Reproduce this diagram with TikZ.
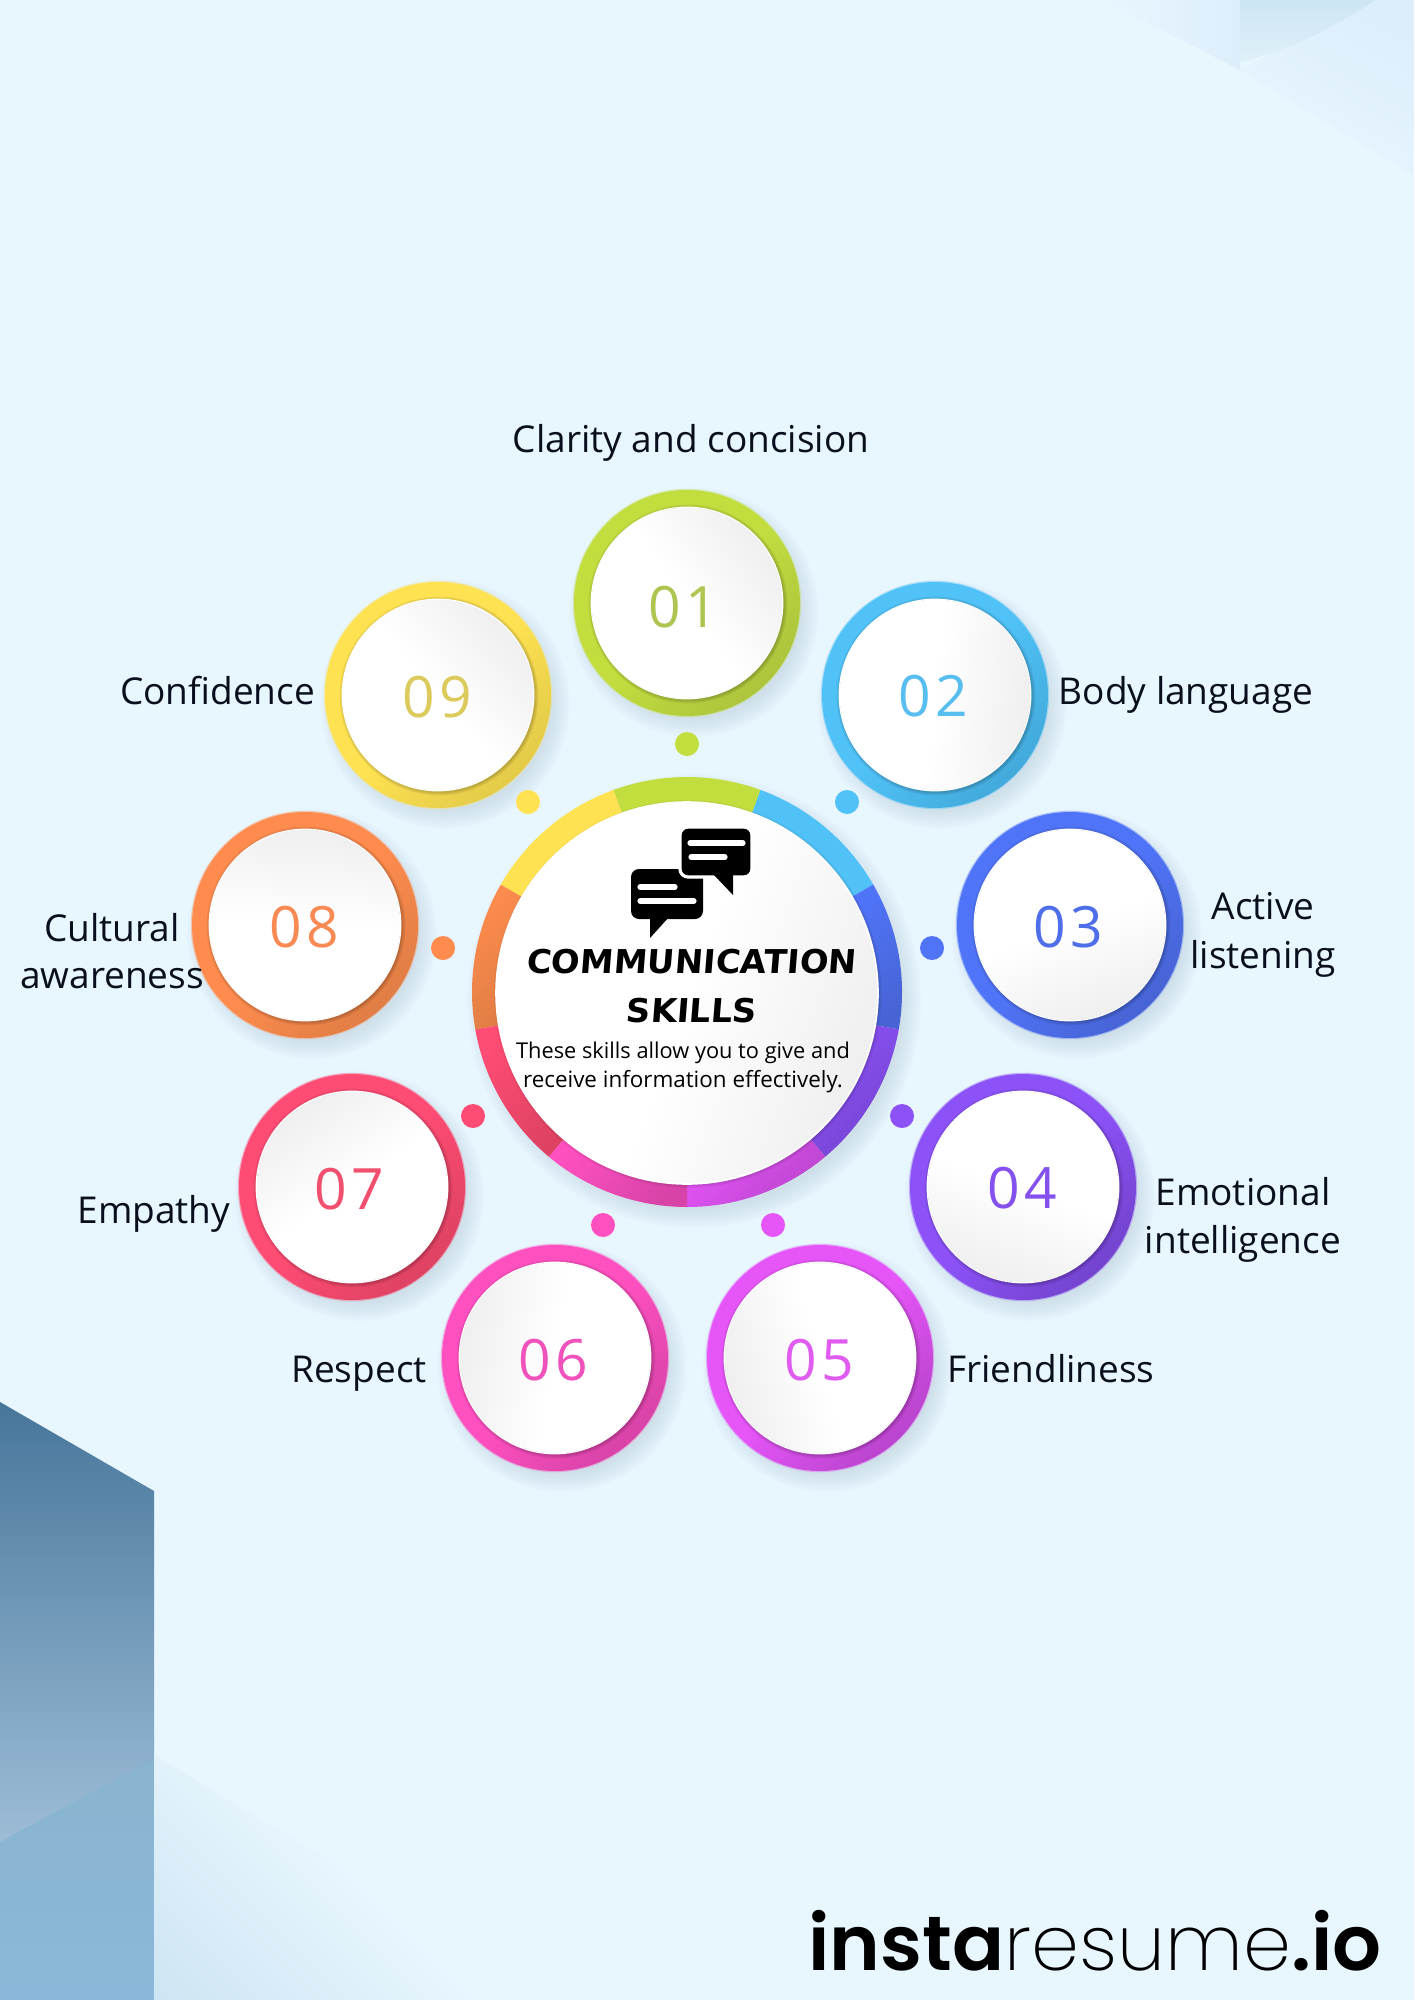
\documentclass[tikz,border=0pt]{standalone}
\usepackage{fontspec}
\setmainfont{Open Sans}
\newfontfamily\numfont[LetterSpace=8]{Open Sans}
\newfontfamily\headfont[FakeStretch=1.03,FakeSlant=0.08]{DejaVu Sans}
\newfontfamily\logobold[UprightFont={* SemiBold}]{Poppins}
\newfontfamily\logolight[UprightFont={* ExtraLight}]{Poppins}
\definecolor{bgc}{HTML}{E8F6FE}
\definecolor{inkc}{HTML}{0A0F1E}
\definecolor{cAl}{HTML}{C2DE3E}\definecolor{cAd}{HTML}{A6BE3C}\definecolor{nA}{HTML}{AFC552}
\definecolor{cBl}{HTML}{50C2F7}\definecolor{cBd}{HTML}{3FA4D4}\definecolor{nB}{HTML}{58BEF0}
\definecolor{cCl}{HTML}{5074F8}\definecolor{cCd}{HTML}{4560CC}\definecolor{nC}{HTML}{4F6FEA}
\definecolor{cDl}{HTML}{8C52F8}\definecolor{cDd}{HTML}{6E40C4}\definecolor{nD}{HTML}{8450EE}
\definecolor{cEl}{HTML}{E655F8}\definecolor{cEd}{HTML}{AE40C2}\definecolor{nE}{HTML}{E05CF0}
\definecolor{cFl}{HTML}{FF50C0}\definecolor{cFd}{HTML}{CE40A2}\definecolor{nF}{HTML}{F052BC}
\definecolor{cGl}{HTML}{FF4C74}\definecolor{cGd}{HTML}{D6405E}\definecolor{nG}{HTML}{F0506E}
\definecolor{cHl}{HTML}{FF8C4E}\definecolor{cHd}{HTML}{D87A42}\definecolor{nH}{HTML}{F98A54}
\definecolor{cIl}{HTML}{FFE252}\definecolor{cId}{HTML}{DCC546}\definecolor{nI}{HTML}{DCCB5C}
\definecolor{shc}{HTML}{33475F}
\definecolor{tra}{HTML}{DDEEFB}\definecolor{trb}{HTML}{CDE6F3}\definecolor{trc}{HTML}{DFF0FA}
\definecolor{bla}{HTML}{47769B}\definecolor{blb}{HTML}{BCD6EC}\definecolor{blc}{HTML}{89B4CF}\definecolor{bld}{HTML}{8BB8DA}\definecolor{ble}{HTML}{C2DEEE}
\pgfdeclarehorizontalshading{glossbase}{100bp}{color(0bp)=(white);color(50bp)=(white);color(78bp)=(white!93!black);color(100bp)=(white!87!black)}
\pgfdeclareverticalshading{fadeb}{100bp}{color(0bp)=(ble);color(50bp)=(bgc);color(100bp)=(bgc)}
\tikzset{
 lab/.style={font=\fontsize{18.5}{22}\selectfont,text=inkc,anchor=base},
 dotmark/.style={circle,inner sep=0pt,minimum size=12pt},
 bubble/.style={fill=black,rounded corners=4pt},
 bubbleline/.style={white,line width=2.6pt,line cap=round},
}
\newcommand\softshadow[3]{%
  \foreach \k in {0,2,...,18}{\fill[shc,opacity=0.012] (#1+7,#2+9) circle[radius={(#3+\k-6)*0.5pt}];}}
\newcommand\skillring[9]{%
  \softshadow{#2}{#3}{113}
  \draw[#4,opacity=0.4,line width=0.8pt] (#2,#3) circle[radius=56.7pt];
  \shade[top color=#4,bottom color=#5!80!#4,middle color=#4,shading angle=45] (#2,#3) circle[radius=56.5pt];
  \foreach \k in {0,...,3}{\fill[black,opacity=0.05] (#2+1,#3+1) circle[radius={(96+\k+0.5)*0.5pt}];}
  \shade[shading=glossbase,shading angle=#6] (#2,#3) circle[radius=47.7pt];
  \draw[white,line width=0.6pt] (#2,#3) circle[radius=47.9pt];
  \node[font=\numfont\fontsize{28.5}{31}\selectfont,text=#8,xshift=1pt] (#1) at (#9) {#7};
}
\newcommand\sector[4]{%
  \shade[top color=#3,bottom color=#4!80!#3,shading angle=45]
    ({687+215*cos(#1)},{992-215*sin(#1)}) arc[start angle=#1,end angle=#2,radius=107.5pt]
    -- ({687+188*cos(#2)},{992-188*sin(#2)}) arc[start angle=#2,end angle=#1,radius=94pt] -- cycle;
}
\begin{document}
\begin{tikzpicture}[x=0.5pt,y=-0.5pt]
\useasboundingbox (0,0) rectangle (1414,2000);
\fill[bgc] (0,0) rectangle (1414,2000);
% background, top right
\shade[left color=bgc,right color=tra] (1104,0) -- (1240,70) -- (1240,0) -- cycle;
\shade[top color=tra,bottom color=bgc,shading angle=-30] (1240,70) -- (1414,175) -- (1414,0) -- (1375,0) -- cycle;
\shade[top color=trb,bottom color=trc] (1240,0) -- (1375,0) .. controls (1330,30) and (1290,50) .. (1240,62) -- cycle;
% background, bottom left
\shade[top color=bla,bottom color=blb] (0,1402) -- (154,1491) -- (154,2000) -- (0,2000) -- cycle;
\shade[top color=blc,bottom color=bld] (0,1842) -- (154,1759) -- (154,2000) -- (0,2000) -- cycle;
\shade[shading=fadeb,shading angle=-45] (154,1755) -- (560,2000) -- (154,2000) -- cycle;
% centre ring
\softshadow{687}{992}{215}
\sector{70}{110}{cAl}{cAl}
\sector{30}{70}{cBl}{cBl}
\sector{-10}{30}{cCl}{cCd}
\sector{-50}{-10}{cDl}{cDd}
\sector{-90}{-50}{cEl}{cEd}
\sector{-130}{-90}{cFl}{cFd}
\sector{-170}{-130}{cGl}{cGd}
\sector{150}{190}{cHl}{cHd}
\sector{110}{150}{cIl}{cIl}
\foreach \k in {0,...,3}{\fill[black,opacity=0.04] (688,994) circle[radius={(191+\k)*0.5pt}];}
\shade[shading=glossbase,shading angle=-20] (687,993) circle[radius=95.5pt];
\draw[white,line width=0.8pt] (687,993) circle[radius=95.5pt];
% the nine rings
\skillring{n1}{687}{603}{cAl}{cAd}{35}{01}{nA}{681,607}
\skillring{n2}{935}{695}{cBl}{cBd}{-5}{02}{nB}{931,696}
\skillring{n3}{1070}{925}{cCl}{cCd}{-70}{03}{nC}{1066,927}
\skillring{n4}{1023}{1187}{cDl}{cDd}{-110}{04}{nD}{1020,1188}
\skillring{n5}{820}{1358}{cEl}{cEd}{195}{05}{nE}{817,1360}
\skillring{n6}{555}{1358}{cFl}{cFd}{170}{06}{nF}{551,1360}
\skillring{n7}{352}{1187}{cGl}{cGd}{125}{07}{nG}{347,1189}
\skillring{n8}{305}{925}{cHl}{cHd}{85}{08}{nH}{302,927}
\skillring{n9}{438}{695}{cIl}{cId}{40}{09}{nI}{435,697}
% dots
\node[dotmark,fill=cAl] (d1) at (687,744) {};
\node[dotmark,fill=cBl] (d2) at (847,802) {};
\node[dotmark,fill=cCl] (d3) at (932,948) {};
\node[dotmark,fill=cDl] (d4) at (902,1116) {};
\node[dotmark,fill=cEl] (d5) at (773,1225) {};
\node[dotmark,fill=cFl] (d6) at (603,1225) {};
\node[dotmark,fill=cGl] (d7) at (473,1116) {};
\node[dotmark,fill=cHl] (d8) at (443,948) {};
\node[dotmark,fill=cIl] (d9) at (528,802) {};
% labels
\node[lab] (l1) at (691,452) {Clarity and concision};
\node[lab] (l2) at (1186,704) {Body language};
\node[lab] (l3a) at (1263,919) {Active};
\node[lab] (l3b) at (1263,968) {listening};
\node[lab] (l4a) at (1243,1205) {Emotional};
\node[lab] (l4b) at (1243,1253) {intelligence};
\node[lab] (l5) at (1051,1382) {Friendliness};
\node[lab] (l6) at (359,1382) {Respect};
\node[lab] (l7) at (154,1223) {Empathy};
\node[lab] (l8a) at (112,941) {Cultural};
\node[lab] (l8b) at (112,988) {awareness};
\node[lab] (l9) at (217.5,704) {Confidence};
% chat icon
\path[bubble] (631,869) rectangle (703,919);
\fill[black] (650,915) -- (650,938) -- (669,917) -- cycle;
\draw[bubbleline] (640,887) -- (675,887);
\draw[bubbleline] (640,901) -- (694,901);
\path[bubble,draw=white,line width=1.6pt] (680,827) rectangle (752,877);
\fill[black] (714,875) -- (733,895) -- (733,875) -- cycle;
\draw[bubbleline] (690,843) -- (743,843);
\draw[bubbleline] (691,857) -- (725,857);
% centre text
\node[anchor=base,font=\headfont\bfseries\fontsize{16.4}{20}\selectfont,text=black] (h1) at (691,973) {COMMUNICATION};
\node[anchor=base,font=\headfont\bfseries\fontsize{16.4}{20}\selectfont,text=black] (h2) at (691,1022) {SKILLS};
\node[anchor=base,font=\fontsize{10.9}{13}\selectfont,text=black] (b1) at (683,1058) {These skills allow you to give and};
\node[anchor=base,font=\fontsize{11.2}{13}\selectfont,text=black] (b2) at (683,1087) {receive information effectively.};
% logo
\node[anchor=base,inner sep=0pt,font=\fontsize{38.4}{42}\selectfont,text=black] (logo) at (1095,1970) {{\logobold insta}{\logolight resume}{\logobold .io}};
\end{tikzpicture}
\end{document}
